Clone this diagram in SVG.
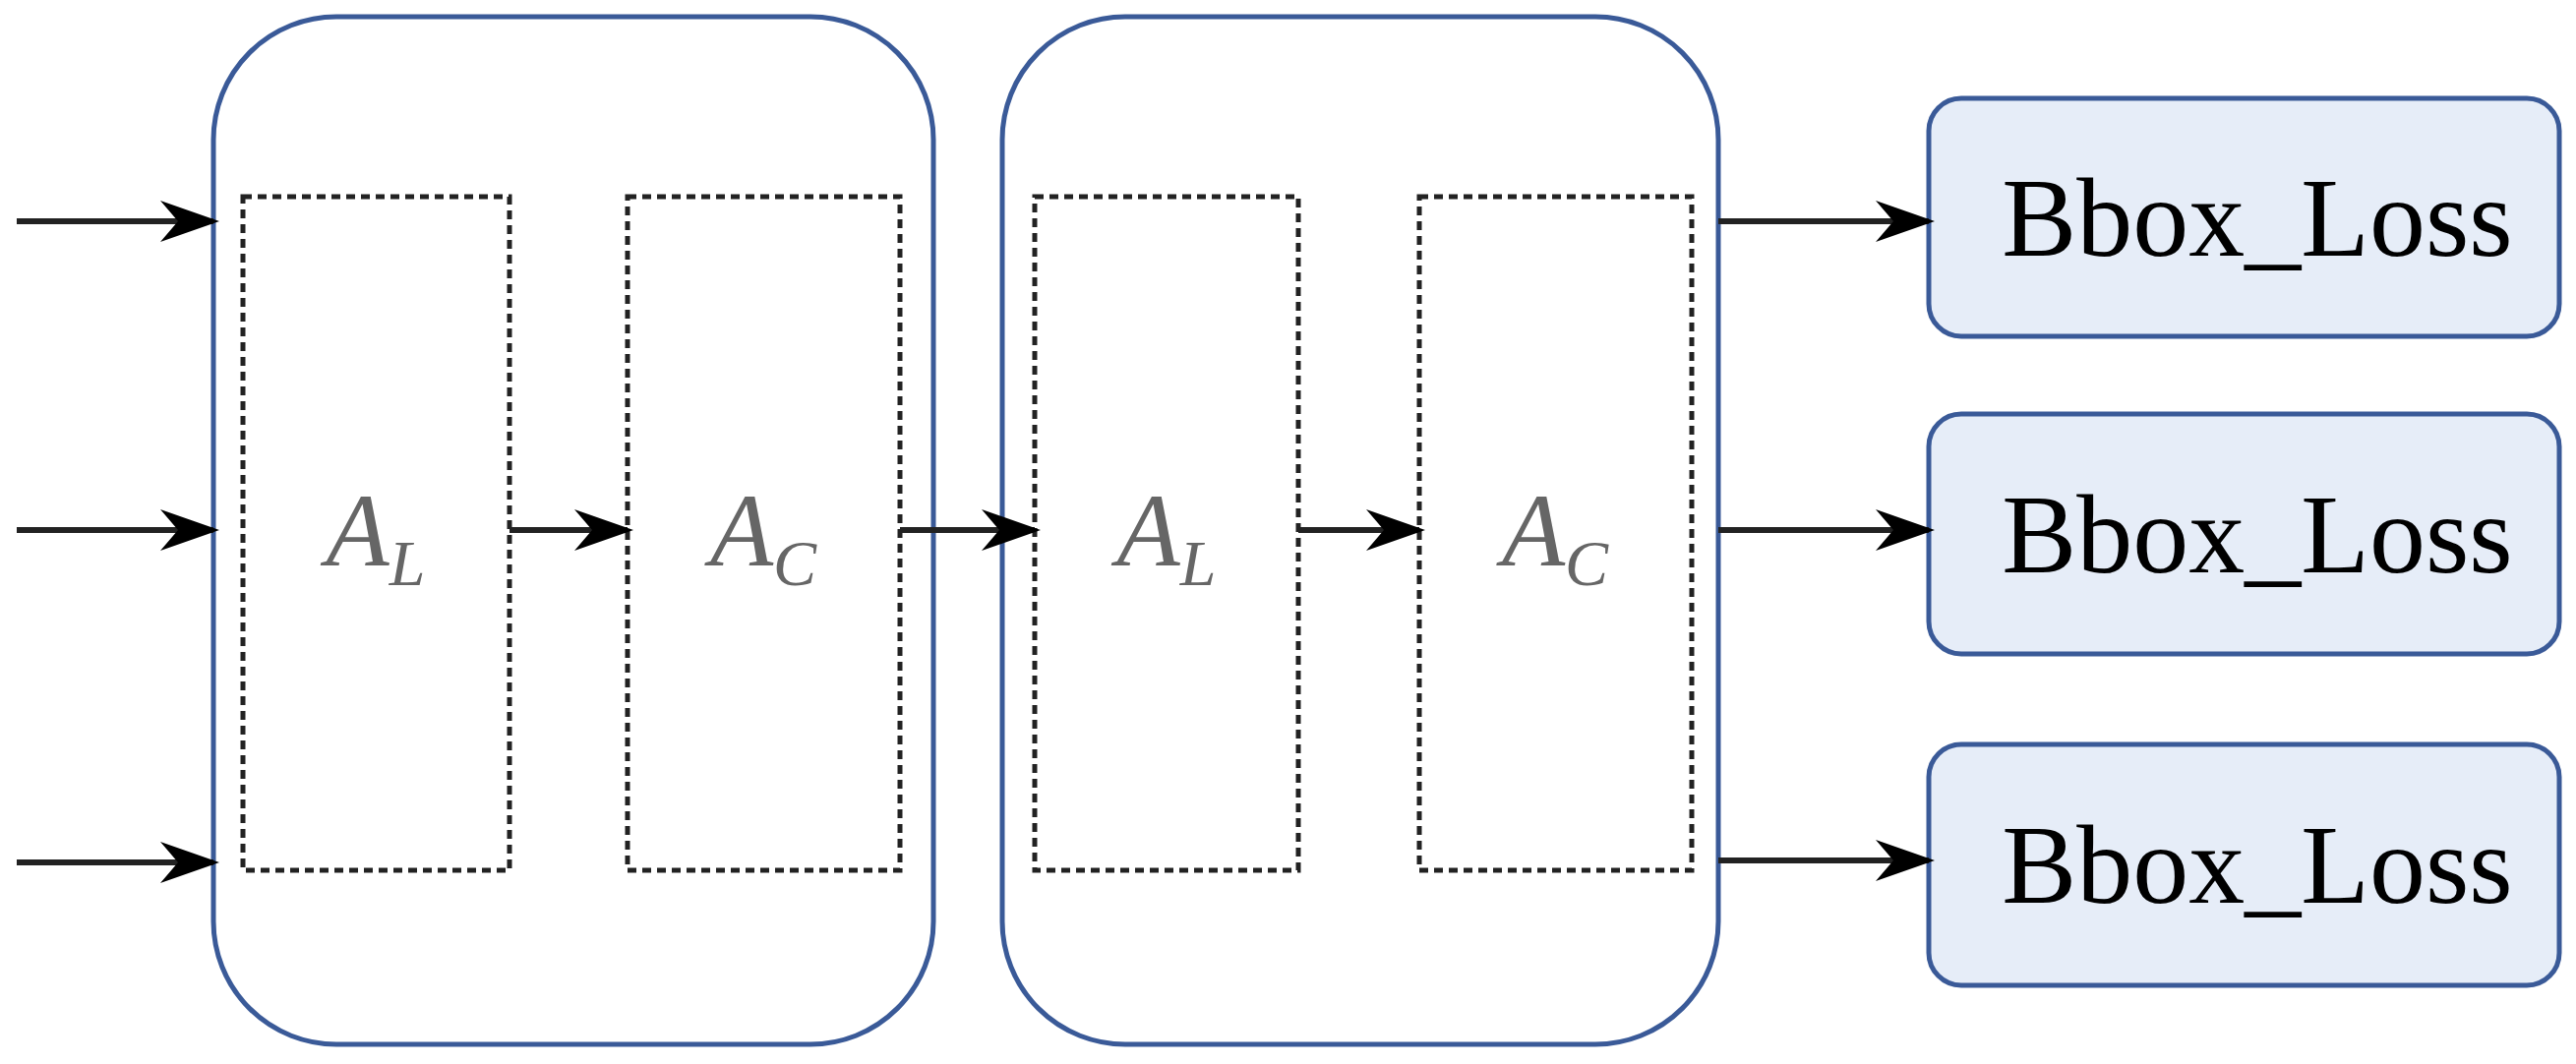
<svg xmlns="http://www.w3.org/2000/svg" width="2619" height="1082" viewBox="0 0 2619 1082">
<defs>
<marker id="ah" markerWidth="10" markerHeight="7" refX="9" refY="3.5" orient="auto" markerUnits="strokeWidth"><path d="M0,0 L10,3.5 L0,7 L3,3.5 Z" fill="#000"/></marker>
<style>
.big{fill:#fff;stroke:#3a5a98;stroke-width:5}
.dash{fill:none;stroke:#222;stroke-width:5;stroke-dasharray:9,6}
.out{fill:#e6edf8;stroke:#3a5a98;stroke-width:5}
.lbl{font-family:"Liberation Serif",serif;font-style:italic;font-size:105px;fill:#666;text-anchor:middle}
.sub{font-size:66px}
.bb{font-family:"Liberation Serif",serif;font-size:114px;fill:#000;text-anchor:middle}
.c{stroke:#222;stroke-width:6;fill:none;marker-end:url(#ah)}
</style>
</defs>
<g id="block1"><rect class="big" x="217" y="17" width="732" height="1045" rx="125"/></g>
<g id="block2"><rect class="big" x="1019" y="17" width="728" height="1045" rx="125"/></g>
<g id="al1"><rect class="dash" x="247" y="200" width="271" height="685"/><text class="lbl" x="382" y="575">A<tspan class="sub" dy="20">L</tspan></text></g>
<g id="ac1"><rect class="dash" x="638" y="200" width="277" height="685"/><text class="lbl" x="776" y="575">A<tspan class="sub" dy="20">C</tspan></text></g>
<g id="al2"><rect class="dash" x="1052" y="200" width="268" height="685"/><text class="lbl" x="1186" y="575">A<tspan class="sub" dy="20">L</tspan></text></g>
<g id="ac2"><rect class="dash" x="1443" y="200" width="277" height="685"/><text class="lbl" x="1581" y="575">A<tspan class="sub" dy="20">C</tspan></text></g>
<g id="loss1"><rect class="out" x="1961" y="100" width="641" height="242" rx="33"/><text class="bb" x="2295" y="260">Bbox_Loss</text></g>
<g id="loss2"><rect class="out" x="1961" y="421" width="641" height="244" rx="33"/><text class="bb" x="2295" y="582">Bbox_Loss</text></g>
<g id="loss3"><rect class="out" x="1961" y="757" width="641" height="245" rx="33"/><text class="bb" x="2295" y="918">Bbox_Loss</text></g>
<g id="connectors">
<line class="c" x1="17" y1="225" x2="217" y2="225"/>
<line class="c" x1="17" y1="539" x2="217" y2="539"/>
<line class="c" x1="17" y1="877" x2="217" y2="877"/>
<line class="c" x1="518" y1="539" x2="638" y2="539"/>
<line class="c" x1="915" y1="539" x2="1052" y2="539"/>
<line class="c" x1="1320" y1="539" x2="1443" y2="539"/>
<line class="c" x1="1747" y1="225" x2="1961" y2="225"/>
<line class="c" x1="1747" y1="539" x2="1961" y2="539"/>
<line class="c" x1="1747" y1="875" x2="1961" y2="875"/>
</g>
</svg>
